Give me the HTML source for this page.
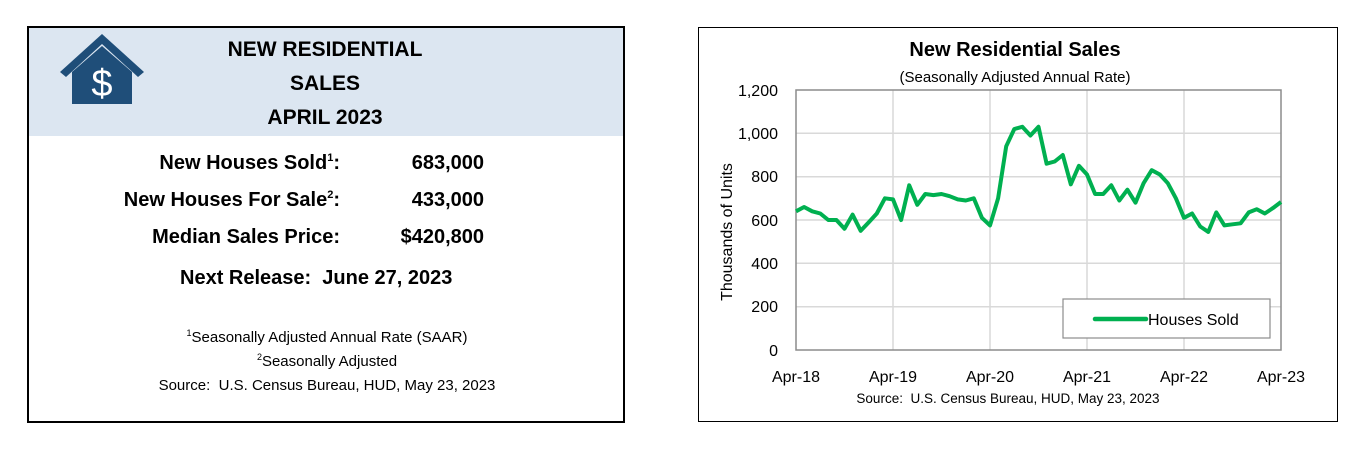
<!DOCTYPE html><html><head><style>
body{margin:0;width:1371px;height:454px;background:#fff;font-family:"Liberation Sans",Arial,sans-serif;position:relative;overflow:hidden}
.a{position:absolute;white-space:nowrap}
.r{font-weight:bold;font-size:20px;line-height:24px}
.s{font-size:11px;position:relative;top:-8px}
.f{font-size:15px;line-height:20px;width:594px;text-align:center;left:30px}
.fs{font-size:9px;position:relative;top:-6px}
</style></head><body>
<div class="a" style="left:27px;top:26px;width:598px;height:397px;border:2px solid #000;box-sizing:border-box"></div>
<div class="a" style="left:29px;top:28px;width:594px;height:108px;background:#dce6f1"></div>
<svg class="a" style="left:55px;top:30px" width="95" height="80" viewBox="0 0 95 80">
<polygon points="5,42 47,4 89,42 83,47 47,14 11,47" fill="#1f4e79"/>
<polygon points="17,42 47,16 77,42 77,74 17,74" fill="#1f4e79"/>
<text x="47" y="66" text-anchor="middle" font-size="38" fill="#fff" font-family="Liberation Sans">$</text>
</svg>
<div class="a" style="left:150px;top:33px;width:350px;text-align:center;font-weight:bold;font-size:21px;line-height:34px">NEW RESIDENTIAL<br>SALES<br>APRIL 2023</div>
<div class="a r" style="left:40px;top:151px;width:300px;text-align:right">New Houses Sold<span class="s">1</span>:</div>
<div class="a r" style="left:40px;top:188px;width:300px;text-align:right">New Houses For Sale<span class="s">2</span>:</div>
<div class="a r" style="left:40px;top:225px;width:300px;text-align:right">Median Sales Price:</div>
<div class="a r" style="left:360px;top:151px;width:124px;text-align:right">683,000</div>
<div class="a r" style="left:360px;top:188px;width:124px;text-align:right">433,000</div>
<div class="a r" style="left:360px;top:225px;width:124px;text-align:right">$420,800</div>
<div class="a r" style="left:180px;top:266px">Next Release:&nbsp; June 27, 2023</div>
<div class="a f" style="top:328px"><span class="fs">1</span>Seasonally Adjusted Annual Rate (SAAR)</div>
<div class="a f" style="top:352px"><span class="fs">2</span>Seasonally Adjusted</div>
<div class="a f" style="top:376px">Source:&nbsp; U.S. Census Bureau, HUD, May 23, 2023</div>

<div class="a" style="left:698px;top:27px;width:640px;height:395px;border:1px solid #000;box-sizing:border-box"></div>
<svg class="a" style="left:0;top:0" width="1371" height="454" font-family="Liberation Sans,Arial,sans-serif">
<text x="1015" y="56" text-anchor="middle" font-size="20" font-weight="bold">New Residential Sales</text>
<text x="1015" y="82" text-anchor="middle" font-size="15">(Seasonally Adjusted Annual Rate)</text>
<g stroke="#d9d9d9" stroke-width="1.5">
<line x1="796" x2="1281" y1="133.3" y2="133.3"/><line x1="796" x2="1281" y1="176.7" y2="176.7"/><line x1="796" x2="1281" y1="220" y2="220"/><line x1="796" x2="1281" y1="263.3" y2="263.3"/><line x1="796" x2="1281" y1="306.7" y2="306.7"/>
<line x1="893" x2="893" y1="90" y2="350"/><line x1="990" x2="990" y1="90" y2="350"/><line x1="1087" x2="1087" y1="90" y2="350"/><line x1="1184" x2="1184" y1="90" y2="350"/>
</g>
<rect x="796" y="90" width="485" height="260" fill="none" stroke="#8c8c8c" stroke-width="1.5"/>
<g font-size="16" text-anchor="end">
<text x="778" y="96">1,200</text><text x="778" y="139">1,000</text><text x="778" y="182">800</text><text x="778" y="226">600</text><text x="778" y="269">400</text><text x="778" y="312">200</text><text x="778" y="356">0</text>
</g>
<g font-size="16" text-anchor="middle">
<text x="796" y="382">Apr-18</text><text x="893" y="382">Apr-19</text><text x="990" y="382">Apr-20</text><text x="1087" y="382">Apr-21</text><text x="1184" y="382">Apr-22</text><text x="1281" y="382">Apr-23</text>
</g>
<text x="1008" y="403" text-anchor="middle" font-size="13.5">Source:&nbsp; U.S. Census Bureau, HUD, May 23, 2023</text>
<text transform="translate(732,232) rotate(-90)" text-anchor="middle" font-size="16">Thousands of Units</text>
<polyline id="p" fill="none" stroke="#00b050" stroke-width="4" stroke-linejoin="round" points=""/>
<rect x="1063" y="299" width="207" height="39" fill="#fff" stroke="#8c8c8c" stroke-width="1.2"/>
<line x1="1095" x2="1146" y1="319" y2="319" stroke="#00b050" stroke-width="4.5" stroke-linecap="round"/>
<text x="1148" y="325" font-size="16">Houses Sold</text>
</svg>
<script>
var d=[640,660,640,630,600,600,560,625,550,590,630,700,695,600,760,670,720,715,720,710,695,690,700,610,575,700,940,1020,1030,990,1030,860,870,900,765,850,810,720,720,760,690,740,680,770,830,810,770,700,610,630,570,545,635,575,580,585,635,650,630,655,683];
document.getElementById('p').setAttribute('points',d.map(function(v,i){return (796+i*485/60).toFixed(1)+','+(350-v*260/1200).toFixed(1)}).join(' '));
</script>
</body></html>
